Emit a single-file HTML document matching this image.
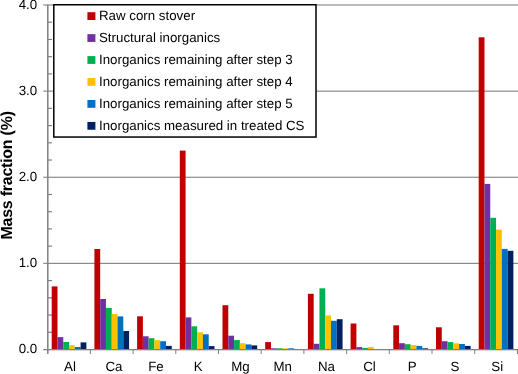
<!DOCTYPE html>
<html><head><meta charset="utf-8"><title>Mass fraction chart</title>
<style>
html,body{margin:0;padding:0;background:#fff;width:518px;height:374px;overflow:hidden}
svg{display:block}
text{font-family:"Liberation Sans",Arial,Helvetica,sans-serif;fill:#000;text-rendering:geometricPrecision}
.lg{font-size:13.3px}
.ax{font-size:13.3px}
.yt{font-size:16px;font-weight:bold;letter-spacing:-0.25px}
</style></head><body>
<svg width="518" height="374" viewBox="0 0 518 374">
<rect width="518" height="374" fill="#fff"/>
<rect x="43.3" y="262.82" width="474.7" height="1.1" fill="#808080"/>
<rect x="43.3" y="176.70" width="474.7" height="1.1" fill="#808080"/>
<rect x="43.3" y="90.58" width="474.7" height="1.1" fill="#808080"/>
<rect x="43.3" y="4.45" width="474.7" height="1.1" fill="#808080"/>
<rect x="48" y="331.67" width="4" height="1.2" fill="#808080"/>
<rect x="48" y="314.45" width="4" height="1.2" fill="#808080"/>
<rect x="48" y="297.22" width="4" height="1.2" fill="#808080"/>
<rect x="48" y="280.00" width="4" height="1.2" fill="#808080"/>
<rect x="48" y="245.55" width="4" height="1.2" fill="#808080"/>
<rect x="48" y="228.32" width="4" height="1.2" fill="#808080"/>
<rect x="48" y="211.10" width="4" height="1.2" fill="#808080"/>
<rect x="48" y="193.88" width="4" height="1.2" fill="#808080"/>
<rect x="48" y="159.42" width="4" height="1.2" fill="#808080"/>
<rect x="48" y="142.20" width="4" height="1.2" fill="#808080"/>
<rect x="48" y="124.97" width="4" height="1.2" fill="#808080"/>
<rect x="48" y="107.75" width="4" height="1.2" fill="#808080"/>
<rect x="48" y="73.30" width="4" height="1.2" fill="#808080"/>
<rect x="48" y="56.07" width="4" height="1.2" fill="#808080"/>
<rect x="48" y="38.85" width="4" height="1.2" fill="#808080"/>
<rect x="48" y="21.62" width="4" height="1.2" fill="#808080"/>
<rect x="51.70" y="286.40" width="5.78" height="62.60" fill="#c00000"/>
<rect x="57.48" y="337.10" width="5.78" height="11.90" fill="#7030a0"/>
<rect x="63.26" y="342.00" width="5.78" height="7.00" fill="#00b050"/>
<rect x="69.04" y="345.20" width="5.78" height="3.80" fill="#ffc000"/>
<rect x="74.82" y="347.00" width="5.78" height="2.00" fill="#0070c0"/>
<rect x="80.60" y="342.40" width="5.78" height="6.60" fill="#002060"/>
<rect x="94.40" y="249.00" width="5.78" height="100.00" fill="#c00000"/>
<rect x="100.18" y="299.00" width="5.78" height="50.00" fill="#7030a0"/>
<rect x="105.96" y="307.90" width="5.78" height="41.10" fill="#00b050"/>
<rect x="111.74" y="314.00" width="5.78" height="35.00" fill="#ffc000"/>
<rect x="117.52" y="316.40" width="5.78" height="32.60" fill="#0070c0"/>
<rect x="123.30" y="331.00" width="5.78" height="18.00" fill="#002060"/>
<rect x="137.10" y="316.30" width="5.78" height="32.70" fill="#c00000"/>
<rect x="142.88" y="336.30" width="5.78" height="12.70" fill="#7030a0"/>
<rect x="148.66" y="338.20" width="5.78" height="10.80" fill="#00b050"/>
<rect x="154.44" y="340.20" width="5.78" height="8.80" fill="#ffc000"/>
<rect x="160.22" y="341.20" width="5.78" height="7.80" fill="#0070c0"/>
<rect x="166.00" y="345.90" width="5.78" height="3.10" fill="#002060"/>
<rect x="179.80" y="150.60" width="5.78" height="198.40" fill="#c00000"/>
<rect x="185.58" y="317.40" width="5.78" height="31.60" fill="#7030a0"/>
<rect x="191.36" y="326.30" width="5.78" height="22.70" fill="#00b050"/>
<rect x="197.14" y="332.30" width="5.78" height="16.70" fill="#ffc000"/>
<rect x="202.92" y="334.30" width="5.78" height="14.70" fill="#0070c0"/>
<rect x="208.70" y="346.10" width="5.78" height="2.90" fill="#002060"/>
<rect x="222.50" y="305.20" width="5.78" height="43.80" fill="#c00000"/>
<rect x="228.28" y="335.70" width="5.78" height="13.30" fill="#7030a0"/>
<rect x="234.06" y="340.10" width="5.78" height="8.90" fill="#00b050"/>
<rect x="239.84" y="343.20" width="5.78" height="5.80" fill="#ffc000"/>
<rect x="245.62" y="344.40" width="5.78" height="4.60" fill="#0070c0"/>
<rect x="251.40" y="345.40" width="5.78" height="3.60" fill="#002060"/>
<rect x="265.20" y="342.10" width="5.78" height="6.90" fill="#c00000"/>
<rect x="270.98" y="348.30" width="5.78" height="0.70" fill="#7030a0"/>
<rect x="276.76" y="348.30" width="5.78" height="0.70" fill="#00b050"/>
<rect x="282.54" y="348.30" width="5.78" height="0.70" fill="#ffc000"/>
<rect x="288.32" y="348.30" width="5.78" height="0.70" fill="#0070c0"/>
<rect x="307.90" y="293.80" width="5.78" height="55.20" fill="#c00000"/>
<rect x="313.68" y="343.80" width="5.78" height="5.20" fill="#7030a0"/>
<rect x="319.46" y="288.30" width="5.78" height="60.70" fill="#00b050"/>
<rect x="325.24" y="315.40" width="5.78" height="33.60" fill="#ffc000"/>
<rect x="331.02" y="320.80" width="5.78" height="28.20" fill="#0070c0"/>
<rect x="336.80" y="319.20" width="5.78" height="29.80" fill="#002060"/>
<rect x="350.60" y="323.50" width="5.78" height="25.50" fill="#c00000"/>
<rect x="356.38" y="347.10" width="5.78" height="1.90" fill="#7030a0"/>
<rect x="362.16" y="347.90" width="5.78" height="1.10" fill="#00b050"/>
<rect x="367.94" y="346.90" width="5.78" height="2.10" fill="#ffc000"/>
<rect x="393.30" y="325.30" width="5.78" height="23.70" fill="#c00000"/>
<rect x="399.08" y="343.20" width="5.78" height="5.80" fill="#7030a0"/>
<rect x="404.86" y="344.20" width="5.78" height="4.80" fill="#00b050"/>
<rect x="410.64" y="345.10" width="5.78" height="3.90" fill="#ffc000"/>
<rect x="416.42" y="345.90" width="5.78" height="3.10" fill="#0070c0"/>
<rect x="422.20" y="348.30" width="5.78" height="0.70" fill="#002060"/>
<rect x="436.00" y="327.30" width="5.78" height="21.70" fill="#c00000"/>
<rect x="441.78" y="341.20" width="5.78" height="7.80" fill="#7030a0"/>
<rect x="447.56" y="342.10" width="5.78" height="6.90" fill="#00b050"/>
<rect x="453.34" y="343.30" width="5.78" height="5.70" fill="#ffc000"/>
<rect x="459.12" y="344.00" width="5.78" height="5.00" fill="#0070c0"/>
<rect x="464.90" y="345.90" width="5.78" height="3.10" fill="#002060"/>
<rect x="478.70" y="37.30" width="5.78" height="311.70" fill="#c00000"/>
<rect x="484.48" y="183.90" width="5.78" height="165.10" fill="#7030a0"/>
<rect x="490.26" y="217.80" width="5.78" height="131.20" fill="#00b050"/>
<rect x="496.04" y="229.60" width="5.78" height="119.40" fill="#ffc000"/>
<rect x="501.82" y="248.90" width="5.78" height="100.10" fill="#0070c0"/>
<rect x="507.60" y="250.80" width="5.78" height="98.20" fill="#002060"/>
<rect x="43.3" y="349" width="474.7" height="1.3" fill="#808080"/>
<rect x="47.05" y="4.6" width="1.5" height="349.4" fill="#808080"/>
<rect x="89.90" y="350" width="1" height="4" fill="#808080"/>
<rect x="132.60" y="350" width="1" height="4" fill="#808080"/>
<rect x="175.30" y="350" width="1" height="4" fill="#808080"/>
<rect x="218.00" y="350" width="1" height="4" fill="#808080"/>
<rect x="260.70" y="350" width="1" height="4" fill="#808080"/>
<rect x="303.40" y="350" width="1" height="4" fill="#808080"/>
<rect x="346.10" y="350" width="1" height="4" fill="#808080"/>
<rect x="388.80" y="350" width="1" height="4" fill="#808080"/>
<rect x="431.50" y="350" width="1" height="4" fill="#808080"/>
<rect x="474.20" y="350" width="1" height="4" fill="#808080"/>
<rect x="516.90" y="350" width="1" height="4" fill="#808080"/>
<rect x="53.8" y="4.75" width="262.2" height="132.3" fill="#fff" stroke="#000" stroke-width="1.5"/>
<rect x="87.4" y="12.20" width="8" height="7.8" fill="#c00000"/>
<text x="99" y="19.70" class="lg">Raw corn stover</text>
<rect x="87.4" y="34.15" width="8" height="7.8" fill="#7030a0"/>
<text x="99" y="41.75" class="lg">Structural inorganics</text>
<rect x="87.4" y="56.10" width="8" height="7.8" fill="#00b050"/>
<text x="99" y="63.80" class="lg">Inorganics remaining after step 3</text>
<rect x="87.4" y="78.05" width="8" height="7.8" fill="#ffc000"/>
<text x="99" y="85.85" class="lg">Inorganics remaining after step 4</text>
<rect x="87.4" y="100.00" width="8" height="7.8" fill="#0070c0"/>
<text x="99" y="107.90" class="lg">Inorganics remaining after step 5</text>
<rect x="87.4" y="121.95" width="8" height="7.8" fill="#002060"/>
<text x="99" y="129.95" class="lg">Inorganics measured in treated CS</text>
<text x="37.2" y="353.10" class="ax" text-anchor="end">0.0</text>
<text x="37.2" y="266.98" class="ax" text-anchor="end">1.0</text>
<text x="37.2" y="180.85" class="ax" text-anchor="end">2.0</text>
<text x="37.2" y="94.72" class="ax" text-anchor="end">3.0</text>
<text x="37.2" y="8.60" class="ax" text-anchor="end">4.0</text>
<text x="69.95" y="370.8" class="ax" text-anchor="middle">Al</text>
<text x="113.95" y="370.8" class="ax" text-anchor="middle">Ca</text>
<text x="155.95" y="370.8" class="ax" text-anchor="middle">Fe</text>
<text x="198.25" y="370.8" class="ax" text-anchor="middle">K</text>
<text x="240.45" y="370.8" class="ax" text-anchor="middle">Mg</text>
<text x="282.75" y="370.8" class="ax" text-anchor="middle">Mn</text>
<text x="326.45" y="370.8" class="ax" text-anchor="middle">Na</text>
<text x="369.45" y="370.8" class="ax" text-anchor="middle">Cl</text>
<text x="412.15" y="370.8" class="ax" text-anchor="middle">P</text>
<text x="454.85" y="370.8" class="ax" text-anchor="middle">S</text>
<text x="497.25" y="370.8" class="ax" text-anchor="middle">Si</text>
<text transform="translate(11.6,175.4) rotate(-90)" class="yt" text-anchor="middle">Mass fraction (%)</text>
</svg>
</body></html>
